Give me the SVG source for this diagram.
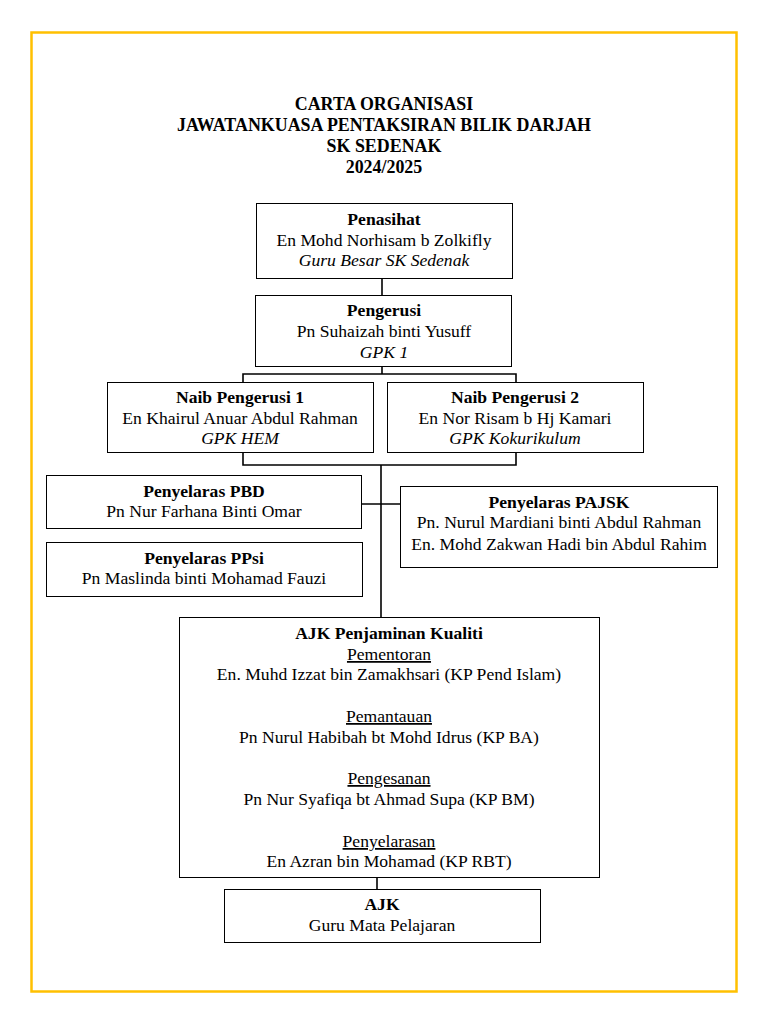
<svg xmlns="http://www.w3.org/2000/svg" width="768" height="1024" viewBox="0 0 768 1024">
<style>
text{font-family:"Liberation Serif","Times New Roman",serif;font-size:17.6px;fill:#000;text-anchor:middle}
.t{font-size:17.9px}
.b{font-weight:bold}
.i{font-style:italic}
.u{text-decoration:underline}
.box{fill:#fff;stroke:#000;stroke-width:1}
.ln{stroke:#000;stroke-width:1.6;fill:none}
</style>
<rect x="0" y="0" width="768" height="1024" fill="#fff"/>
<rect x="31.5" y="32.5" width="705" height="959" fill="none" stroke="#FFC000" stroke-width="2.5"/>
<g id="title">
<text class="b t" x="384" y="110">CARTA ORGANISASI</text>
<text class="b t" x="384" y="131">JAWATANKUASA PENTAKSIRAN BILIK DARJAH</text>
<text class="b t" x="384" y="152">SK SEDENAK</text>
<text class="b t" x="384" y="173">2024/2025</text>
</g>
<g id="connectors">
<path class="ln" d="M382 278V295"/>
<path class="ln" d="M382 366V374M243 382V374H516V382"/>
<path class="ln" d="M243 452V465H516V452"/>
<path class="ln" d="M381 465V617"/>
<path class="ln" d="M361 504H400"/>
<path class="ln" d="M377 877V889"/>
</g>
<g id="penasihat">
<rect class="box" x="256.5" y="203.5" width="256" height="75"/>
<text class="b" x="384" y="225">Penasihat</text>
<text x="384" y="246">En Mohd Norhisam b Zolkifly</text>
<text class="i" x="384" y="266">Guru Besar SK Sedenak</text>
</g>
<g id="pengerusi">
<rect class="box" x="255.5" y="295.5" width="256" height="71"/>
<text class="b" x="384" y="316">Pengerusi</text>
<text x="384" y="337">Pn Suhaizah binti Yusuff</text>
<text class="i" x="384" y="358">GPK 1</text>
</g>
<g id="naib1">
<rect class="box" x="107.5" y="382.5" width="266" height="70"/>
<text class="b" x="240" y="403">Naib Pengerusi 1</text>
<text x="240" y="424">En Khairul Anuar Abdul Rahman</text>
<text class="i" x="240" y="444">GPK HEM</text>
</g>
<g id="naib2">
<rect class="box" x="387.5" y="382.5" width="256" height="70"/>
<text class="b" x="515" y="403">Naib Pengerusi 2</text>
<text x="515" y="424">En Nor Risam b Hj Kamari</text>
<text class="i" x="515" y="444">GPK Kokurikulum</text>
</g>
<g id="pbd">
<rect class="box" x="46.5" y="475.5" width="315" height="53"/>
<text class="b" x="204" y="497">Penyelaras PBD</text>
<text x="204" y="517">Pn Nur Farhana Binti Omar</text>
</g>
<g id="ppsi">
<rect class="box" x="46.5" y="542.5" width="316" height="54"/>
<text class="b" x="204" y="564">Penyelaras PPsi</text>
<text x="204" y="584">Pn Maslinda binti Mohamad Fauzi</text>
</g>
<g id="pajsk">
<rect class="box" x="400.5" y="486.5" width="317" height="81"/>
<text class="b" x="559" y="508">Penyelaras PAJSK</text>
<text x="559" y="528">Pn. Nurul Mardiani binti Abdul Rahman</text>
<text x="559" y="550">En. Mohd Zakwan Hadi bin Abdul Rahim</text>
</g>
<g id="ajkpk">
<rect class="box" x="179.5" y="617.5" width="420" height="260"/>
<text class="b" x="389" y="639">AJK Penjaminan Kualiti</text>
<text class="u" x="389" y="660">Pementoran</text>
<text x="389" y="680">En. Muhd Izzat bin Zamakhsari (KP Pend Islam)</text>
<text class="u" x="389" y="722">Pemantauan</text>
<text x="389" y="743">Pn Nurul Habibah bt Mohd Idrus (KP BA)</text>
<text class="u" x="389" y="784">Pengesanan</text>
<text x="389" y="805">Pn Nur Syafiqa bt Ahmad Supa (KP BM)</text>
<text class="u" x="389" y="847">Penyelarasan</text>
<text x="389" y="867">En Azran bin Mohamad (KP RBT)</text>
</g>
<g id="ajk">
<rect class="box" x="224.5" y="889.5" width="316" height="53"/>
<text class="b" x="382" y="910">AJK</text>
<text x="382" y="931">Guru Mata Pelajaran</text>
</g>
</svg>
